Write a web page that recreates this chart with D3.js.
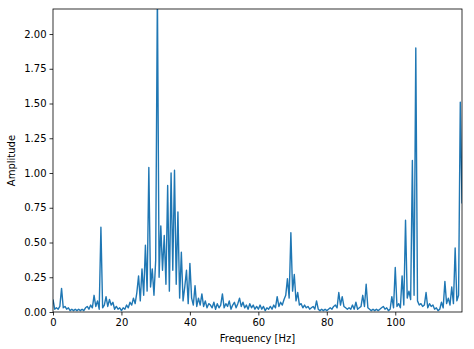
<!DOCTYPE html>
<html lang="en">
<head>
  <meta charset="UTF-8">
  <script src="https://d3js.org/d3.v7.min.js"></script>
  <style>
    body { margin: 0; background: #fff; }
    text { font-family: "DejaVu Sans", sans-serif; }
  </style>
</head>
<body>
<div id="my_dataviz"></div>
<script>
// frequency grid: one amplitude every 0.5 Hz starting at 0 Hz
var freqStep = 0.5;
var amplitudes = [
  0.09, 0.02, 0.03, 0.02, 0.04, 0.17, 0.03, 0.04, 0.02, 0.03,
  0.01, 0.02, 0.01, 0.02, 0.01, 0.02, 0.01, 0.02, 0.01, 0.03,
  0.04, 0.02, 0.05, 0.03, 0.12, 0.04, 0.08, 0.02, 0.61, 0.03,
  0.05, 0.11, 0.04, 0.09, 0.05, 0.07, 0.02, 0.04, 0.02, 0.03,
  0.01, 0.03, 0.02, 0.05, 0.03, 0.07, 0.05, 0.10, 0.06, 0.14,
  0.26, 0.08, 0.31, 0.12, 0.48, 0.15, 1.04, 0.18, 0.31, 0.12,
  0.37, 2.30, 0.25, 0.62, 0.30, 0.55, 0.20, 0.91, 0.15, 1.00,
  0.30, 1.02, 0.20, 0.72, 0.10, 0.43, 0.08, 0.18, 0.30, 0.06,
  0.35, 0.10, 0.05, 0.19, 0.04, 0.10, 0.05, 0.13, 0.04, 0.08,
  0.03, 0.06, 0.05, 0.03, 0.07, 0.02, 0.06, 0.03, 0.05, 0.13,
  0.03, 0.06, 0.04, 0.08, 0.02, 0.05, 0.07, 0.03, 0.06, 0.10,
  0.04, 0.07, 0.03, 0.05, 0.02, 0.06, 0.03, 0.05, 0.02, 0.04,
  0.02, 0.05, 0.02, 0.04, 0.01, 0.03, 0.02, 0.04, 0.02, 0.05,
  0.03, 0.11, 0.04, 0.07, 0.05, 0.09, 0.12, 0.24, 0.10, 0.57,
  0.15, 0.27, 0.08, 0.14, 0.05, 0.06, 0.03, 0.05, 0.03, 0.04,
  0.02, 0.03, 0.04, 0.02, 0.08, 0.02, 0.01, 0.02, 0.01, 0.02,
  0.01, 0.02, 0.03, 0.02, 0.04, 0.05, 0.03, 0.14, 0.05, 0.11,
  0.04, 0.03, 0.02, 0.03, 0.02, 0.05, 0.02, 0.07, 0.02, 0.03,
  0.04, 0.12, 0.04, 0.20, 0.03, 0.02, 0.01, 0.02, 0.01, 0.02,
  0.01, 0.02, 0.03, 0.04, 0.02, 0.03, 0.01, 0.02, 0.11, 0.03,
  0.32, 0.04, 0.06, 0.03, 0.26, 0.05, 0.66, 0.10, 0.15, 0.09,
  1.09, 0.12, 1.90, 0.08, 0.05, 0.06, 0.04, 0.05, 0.14, 0.03,
  0.06, 0.04, 0.05, 0.02, 0.03, 0.01, 0.02, 0.07, 0.03, 0.22,
  0.06, 0.10, 0.05, 0.18, 0.06, 0.46, 0.08, 0.12, 1.51, 0.78
];
var xTicks = [0, 20, 40, 60, 80, 100];
var yTicks = [0, 0.25, 0.5, 0.75, 1.0, 1.25, 1.5, 1.75, 2.0];

var W = 474, H = 349;
var plotLeft = 53, plotRight = 462, plotTop = 9, plotBottom = 312;

var svg = d3.select("#my_dataviz")
  .append("svg")
  .attr("width", W)
  .attr("height", H);

var x = d3.scaleLinear().domain([0, 119.5]).range([plotLeft, plotRight]);
var y = d3.scaleLinear().domain([0, 2.18]).range([plotBottom, plotTop]);

svg.append("clipPath").attr("id", "plotclip")
  .append("rect")
  .attr("x", plotLeft).attr("y", plotTop)
  .attr("width", plotRight - plotLeft).attr("height", plotBottom - plotTop);

var line = d3.line()
  .x(function(d, i) { return x(i * freqStep); })
  .y(function(d) { return y(d); });

svg.append("path")
  .datum(amplitudes)
  .attr("clip-path", "url(#plotclip)")
  .attr("fill", "none")
  .attr("stroke", "#1f77b4")
  .attr("stroke-width", 1.4)
  .attr("stroke-linejoin", "round")
  .attr("d", line);

// axes
var xAxis = svg.append("g")
  .attr("transform", "translate(0," + plotBottom + ")")
  .call(d3.axisBottom(x).tickValues(xTicks).tickSize(3.5).tickPadding(3).tickFormat(d3.format("d")));
var yAxis = svg.append("g")
  .attr("transform", "translate(" + plotLeft + ",0)")
  .call(d3.axisLeft(y).tickValues(yTicks).tickSize(3.5).tickPadding(3).tickFormat(d3.format(".2f")));

[xAxis, yAxis].forEach(function(g) {
  g.select(".domain").remove();
  g.selectAll("line").attr("stroke", "#000").attr("stroke-width", 0.8);
  g.selectAll("text").attr("fill", "#000").style("font-size", "10px").style("font-family", "DejaVu Sans");
});

// frame
svg.append("rect")
  .attr("x", plotLeft).attr("y", plotTop)
  .attr("width", plotRight - plotLeft).attr("height", plotBottom - plotTop)
  .attr("fill", "none")
  .attr("stroke", "#000")
  .attr("stroke-width", 0.8);

svg.append("text")
  .attr("x", (plotLeft + plotRight) / 2)
  .attr("y", 342)
  .attr("text-anchor", "middle")
  .style("font-size", "10px")
  .text("Frequency [Hz]");

svg.append("text")
  .attr("transform", "translate(15," + ((plotTop + plotBottom) / 2) + ") rotate(-90)")
  .attr("text-anchor", "middle")
  .style("font-size", "10px")
  .text("Amplitude");
</script>
</body>
</html>
